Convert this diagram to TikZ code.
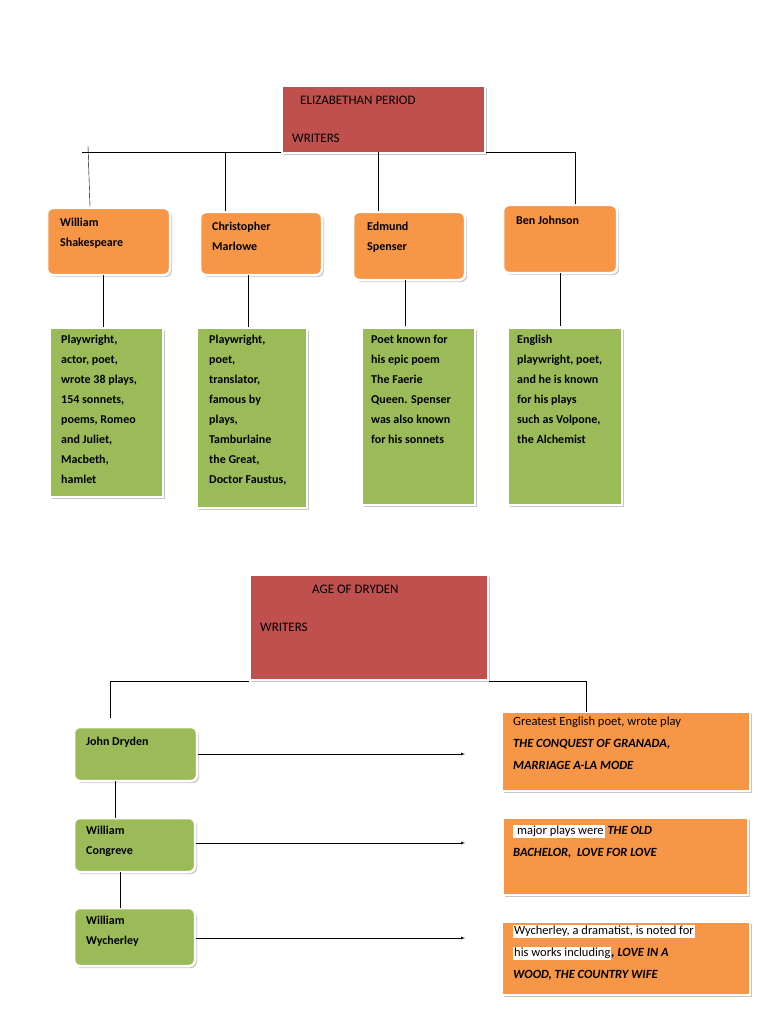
\documentclass[tikz,border=0pt]{standalone}
\usepackage{fontspec}
\setmainfont{Carlito}
\usepackage{xcolor}
\definecolor{myred1}{HTML}{C0504D}
\definecolor{myora1}{HTML}{F79646}
\definecolor{mygre1}{HTML}{9BBB59}
\usetikzlibrary{positioning}
\usetikzlibrary{shadows, arrows}
\tikzstyle{box} = [rectangle, draw=white, line width=2.5pt, drop shadow={opacity=0.45, shadow xshift=2pt, shadow yshift=-2pt}, inner sep=0pt]
\tikzstyle{title} = [box, fill=myred1]
\tikzstyle{writer} = [box, fill=myora1, rounded corners=6pt]
\tikzstyle{works} = [box, fill=mygre1]
\tikzstyle{note} = [box, fill=myora1]
\tikzstyle{small} = [rounded corners=6pt, fill=mygre1, box]
\tikzstyle{txt} = [anchor=north west, align=left, inner sep=0pt, font=\fontsize{12}{20}\selectfont\bfseries]
\tikzstyle{ntxt} = [anchor=north west, align=left, inner sep=0pt, font=\fontsize{12.5}{22}\selectfont]
\tikzstyle{link} = [thin, black]
\tikzstyle{inout} = [thin, ->, >=latex, black]
\setlength{\fboxsep}{1pt}
\begin{document}
\begin{tikzpicture}[x=1pt,y=-1pt]
	\useasboundingbox (0,0) rectangle (768,1024);
	% elizabethan period
	\node (t1)[title, minimum width=203pt, minimum height=67pt] at (383.5,119.5){};
	\node[txt, font=\fontsize{13}{16}\selectfont] at (300,96){ELIZABETHAN PERIOD};
	\node[txt, font=\fontsize{13}{16}\selectfont] at (292,134){WRITERS};
	\node (w1)[writer, minimum width=123pt, minimum height=67pt] at (108.5,241.5){};
	\node (w2)[writer, minimum width=122pt, minimum height=63pt] at (261,243.5){};
	\node (w3)[writer, minimum width=112pt, minimum height=68pt] at (409,246){};
	\node (w4)[writer, minimum width=114pt, minimum height=68pt] at (560,239){};
	\node[txt] at (60,218){William\\Shakespeare};
	\node[txt] at (212,222){Christopher\\Marlowe};
	\node[txt] at (367,222){Edmund\\Spenser};
	\node[txt] at (516,216){Ben Johnson};
	\node (g1)[works, minimum width=113pt, minimum height=169pt] at (106.5,412.5){};
	\node (g2)[works, minimum width=110pt, minimum height=180pt] at (252,418){};
	\node (g3)[works, minimum width=113pt, minimum height=177pt] at (418.5,416.5){};
	\node (g4)[works, minimum width=114pt, minimum height=177pt] at (565,416.5){};
	\node[txt] at (61,335){Playwright,\\actor, poet,\\wrote 38 plays,\\154 sonnets,\\poems, Romeo\\and Juliet,\\Macbeth,\\hamlet};
	\node[txt] at (209,335){Playwright,\\poet,\\translator,\\famous by\\plays,\\Tamburlaine\\the Great,\\Doctor Faustus,};
	\node[txt] at (371,335){Poet known for\\his epic poem\\The Faerie\\Queen. Spenser\\was also known\\for his sonnets};
	\node[txt] at (517,335){English\\playwright, poet,\\and he is known\\for his plays\\such as Volpone,\\the Alchemist};
	\coordinate (c0) at (82,152);
	\coordinate (c1) at (88,146);
	\coordinate (c2) at (225,152);
	\coordinate (c3) at (378,152);
	\coordinate (c4) at (575,152);
	\draw [link] (c0) -- (t1.west |- c0);
	\draw [link] (t1.east |- c4) -- (c4) -- (c4 |- w4.north);
	\draw [link] (c1) -- (90,207);
	\draw [link] (c2) -- (c2 |- w2.north);
	\draw [link] (c3) -- (c3 |- w3.north);
	\draw [link] (103,275) -- (g1.north -| 103,0);
	\draw [link] (248,275) -- (248,327);
	\draw [link] (405,280) -- (405,326);
	\draw [link] (560,273) -- (560,326);
	% age of dryden
	\node (t2)[title, minimum width=238pt, minimum height=105pt] at (369,627.5){};
	\node[txt, font=\fontsize{13}{16}\selectfont] at (312,585){AGE OF DRYDEN};
	\node[txt, font=\fontsize{13}{16}\selectfont] at (260,623){WRITERS};
	\node (d1)[small, minimum width=123pt, minimum height=54pt] at (135.5,754){};
	\node (d2)[small, minimum width=121pt, minimum height=54pt] at (134.5,845){};
	\node (d3)[small, minimum width=121pt, minimum height=58pt] at (134.5,937){};
	\node[txt] at (86,737){John Dryden};
	\node[txt] at (86,826){William\\Congreve};
	\node[txt] at (86,916){William\\Wycherley};
	\node (n1)[note, minimum width=248pt, minimum height=79pt] at (626,751.5){};
	\node (n2)[note, minimum width=245pt, minimum height=77pt] at (625.5,856.5){};
	\node (n3)[note, minimum width=248pt, minimum height=73pt] at (626,958.5){};
	\node[ntxt] at (513,717){Greatest English poet, wrote play\\\textbf{\textit{THE CONQUEST OF GRANADA,}}\\\textbf{\textit{MARRIAGE A-LA MODE}}};
	\node[ntxt] at (513,825){\colorbox{white}{ major plays were}\textbf{\textit{ THE OLD}}\\\textbf{\textit{BACHELOR,\ \ LOVE FOR LOVE}}};
	\node[ntxt] at (513,925){\colorbox{white}{Wycherley, a dramatist, is noted for}\\\colorbox{white}{his works including}\textbf{\textit{, LOVE IN A}}\\\textbf{\textit{WOOD, THE COUNTRY WIFE}}};
	\coordinate (e1) at (465,754);
	\coordinate (e2) at (465,843);
	\coordinate (e3) at (465,938);
	\draw [link] (110,718) -- (110,681) -- (t2.west |- 0,681);
	\draw [link] (t2.east |- 0,681) -- (586,681) -- (586,712);
	\draw [link] (115,781) -- (115,818);
	\draw [link] (120,872) -- (120,908);
	\draw [inout] (d1.east |- e1) -- (e1);
	\draw [inout] (d2.east |- e2) -- (e2);
	\draw [inout] (d3.east |- e3) -- (e3);
\end{tikzpicture}
\end{document}
